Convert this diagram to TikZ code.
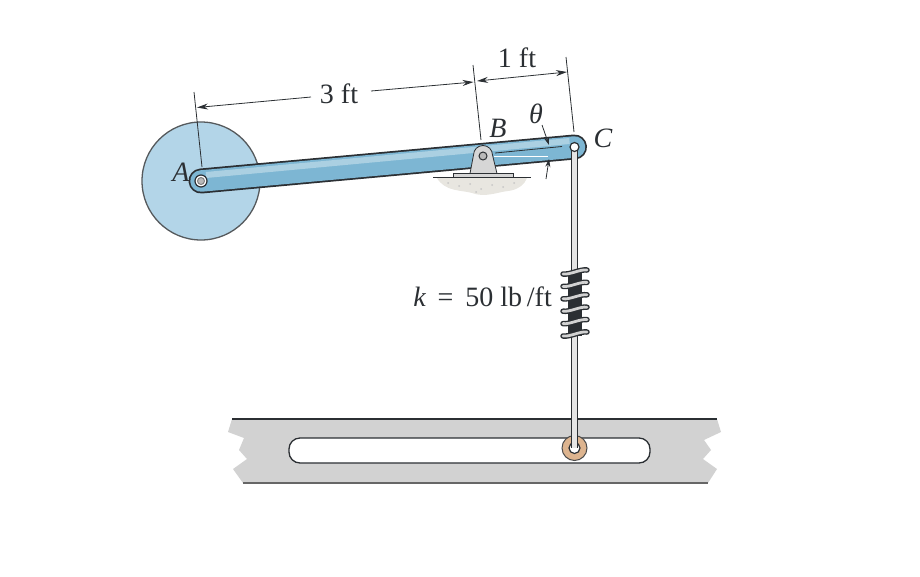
\documentclass[tikz,border=0pt]{standalone}
\usepackage{fontspec}
\setmainfont{Liberation Serif}
\usepackage{tikz}
\usetikzlibrary{arrows.meta,calc}
\definecolor{diskblue}{HTML}{B3D5E8}
\definecolor{barblue}{HTML}{7DB6D3}
\definecolor{plategray}{HTML}{D2D2D2}
\definecolor{bracketgray}{HTML}{D6D6D6}
\definecolor{groundgray}{HTML}{E8E6E0}
\definecolor{washertan}{HTML}{DDB48F}
\definecolor{inkdark}{HTML}{2B2F33}
\tikzstyle{every node}=[font=\fontsize{28}{30}\selectfont,text=inkdark]
\tikzstyle{thinline}=[draw=inkdark,line width=0.8pt]
\tikzstyle{dimline}=[thinline,{Stealth[length=11pt,width=6pt]}-{Stealth[length=11pt,width=6pt]}]
\tikzstyle{pinhole}=[circle,draw=inkdark,line width=1pt,fill=gray!55,inner sep=0pt,minimum size=8pt]
\tikzstyle{pinring}=[circle,draw=inkdark,line width=1.2pt,fill=white,inner sep=0pt]
\begin{document}
\begin{tikzpicture}[x=1pt,y=-1pt]
\useasboundingbox (0,0) rectangle (920,576);
\coordinate (A) at (201,181);
\coordinate (B) at (483,156);
\coordinate (C) at (574.5,147);
\coordinate (D) at (574.5,448);
% plate with the slot
\draw[fill=plategray,draw=none] (232,419) -- (228,432) -- (244,438) -- (239,450) -- (247,459) -- (233,469) -- (243,483)
  -- (708,483) -- (717,469) -- (703,459) -- (711,450) -- (704,440) -- (721,432) -- (717,419) -- cycle;
\draw[thinline,line width=1.3pt] (232,419) -- (717,419);
\draw[thinline,line width=1.3pt,draw=gray!80!black] (243,483) -- (708,483);
\node[draw=inkdark,line width=1.3pt,fill=white,rounded corners=11pt,minimum width=361pt,minimum height=25pt,inner sep=0pt] (slot) at (469.5,450.5) {};
% disk and bar
\node[circle,draw=inkdark!80,line width=1.3pt,fill=diskblue,minimum size=118pt,inner sep=0pt] (disk) at (A) {};
\draw[inkdark,line width=25pt,line cap=round] (A) -- (C);
\draw[barblue,line width=21.5pt,line cap=round] (A) -- (C);
\draw[barblue!65!white,line width=6pt] ($(A)+(5,-6)$) -- ($(C)+(-5,-6)$);
% ground and bracket
\draw[fill=groundgray,draw=none] (437,178) .. controls (445,192) and (462,190) .. (472,193) .. controls (485,198) and (498,192) .. (508,191) .. controls (518,190) and (525,184) .. (527,178) -- cycle;
\foreach \x/\y in {448/183,459/186,470/184,481/189,492/185,503/187,514/183,476/192}
  \fill[gray!45] (\x,\y) circle (1pt);
\draw[thinline,line width=1.2pt] (433,177.5) -- (531,177.5);
\draw[thinline,fill=bracketgray] (453,177) rectangle (513,173.5);
\draw[thinline,fill=bracketgray] (470,173.5) -- (473.5,155) arc[start angle=180,end angle=360,radius=9.5] -- (497,173.5) -- cycle;
\node[pinhole] (pinB) at (B) {};
\node[pinring,minimum size=12pt] (ringA) at (A) {};
\node[pinhole,draw=gray,minimum size=7pt] (pinA) at (A) {};
% theta
\draw[thinline] (495,153) -- (562,146.5);
\draw[thinline,draw=white] (494,156) -- (548,156);
% rod, spring, washer
\node[circle,draw=gray!60!black,line width=1pt,fill=washertan,minimum size=25pt,inner sep=0pt] (washer) at (D) {};
\node[pinring,minimum size=11pt] (eye) at (D) {};
\draw[inkdark,line width=7.5pt] (C) -- (D);
\draw[gray!20,line width=4.5pt] (C) -- (D);
\node[pinring,minimum size=9pt] (pinC) at (C) {};
\fill[inkdark] (568,271) rectangle (582,336);
\foreach \i in {0,...,5} {
  \draw[inkdark,line width=5.5pt,line cap=round] (563,{274+\i*12.4}) .. controls (570,{275+\i*12.4}) and (580,{269+\i*12.4}) .. (587,{270+\i*12.4});
  \draw[gray!35,line width=2.8pt,line cap=round] (563,{274+\i*12.4}) .. controls (570,{275+\i*12.4}) and (580,{269+\i*12.4}) .. (587,{270+\i*12.4});
}
% dimensions
\coordinate (dimA) at (194,92);
\coordinate (dimAb) at (202,167);
\coordinate (dimB) at (473,65);
\coordinate (dimBb) at (481,140);
\coordinate (dimC) at (566,57);
\coordinate (dimCb) at (574,132);
\draw[thinline] (dimA) -- (dimAb);
\draw[thinline] (dimB) -- (dimBb);
\draw[thinline] (dimC) -- (dimCb);
\node (threeft) at (339,94) {3 ft};
\node (oneft) at (517,58) {1 ft};
\node (labA) at (181,172) {\itshape A};
\node (labB) at (498,128) {\itshape B};
\node (labC) at (603,138) {\itshape C};
\node (labtheta) at (536,114) {\itshape θ};
\node[anchor=east,inner sep=0pt] (labk) at (552,297) {\itshape k\upshape\hspace{12pt}=\hspace{12pt}50 lb\,/ft};
\draw[thinline,-{Stealth[length=11pt,width=6pt]}] (311,97) -- (197,107.5);
\draw[thinline,-{Stealth[length=11pt,width=6pt]}] (371,91) -- (473.5,82);
\draw[dimline] (477,81) -- (567,72);
\coordinate (thetaup) at (542,125);
\coordinate (thetalow) at (546,179);
\draw[thinline,-{Stealth[length=8pt,width=5pt]}] (thetaup) -- (549,145);
\draw[thinline,-{Stealth[length=8pt,width=5pt]}] (thetalow) -- (549,159);
\end{tikzpicture}
\end{document}
